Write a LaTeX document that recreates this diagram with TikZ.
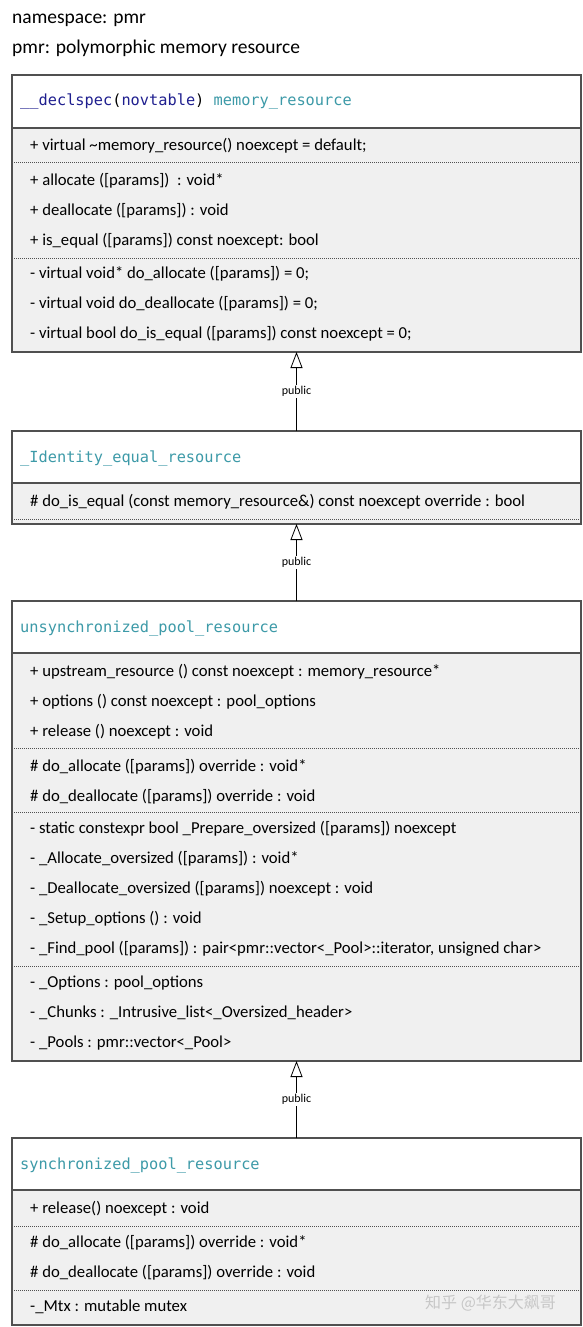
\documentclass[tikz,border=0pt]{standalone}
\usepackage{fontspec}
\setmainfont{Carlito}
\newfontfamily\codefont{DejaVu Sans Mono}
\newfontfamily\cjkfont{Noto Sans CJK SC}
\usetikzlibrary{arrows.meta}
\definecolor{teal1}{HTML}{3D9AA8}
\definecolor{navy1}{HTML}{1F1F8F}
\definecolor{boxgray}{HTML}{F0F0F0}
\definecolor{edge}{HTML}{505050}
\begin{document}
\begin{tikzpicture}[x=1pt,y=-1pt,
  classbox/.style={draw=edge, line width=1.2pt, minimum width=569pt, inner sep=0pt, outer sep=0pt},
  hdr/.style={anchor=base west, font=\codefont\fontsize{15.3}{17}\selectfont, text=teal1, inner sep=0pt},
  row/.style={anchor=base west, font=\fontsize{16.7}{19}\selectfont, inner sep=0pt},
  ttl/.style={anchor=base west, font=\fontsize{19.5}{22}\selectfont, inner sep=0pt},
  sepdash/.style={draw=edge, line width=0.7pt, dash pattern=on 1pt off 1pt},
  sepsolid/.style={draw=edge, line width=1.2pt},
  inherit/.style={draw=black, line width=0.8pt, -{Triangle[open, length=16pt, width=12pt, line width=0.8pt]}},
  lbl/.style={fill=white, inner sep=1.5pt, font=\fontsize{12}{13}\selectfont}
]
\useasboundingbox (0,0) rectangle (582,1327);
\fill[white] (0,0) rectangle (582,1327);

\node[ttl] (t1) at (12,24) {namespace: pmr};
\node[ttl] (t2) at (12,54) {pmr: polymorphic memory resource};

% ---------- Box 1
\fill[boxgray] (12,128) rectangle (581,352);
\node[classbox, minimum height=277pt, anchor=north west] (b1) at (12,75) {};
\draw[sepsolid] (12,128) -- (581,128);
\node[hdr] (h1) at (20,106) {\textcolor{navy1}{\_\_declspec}\textcolor{black}{(}\textcolor{navy1}{novtable}\textcolor{black}{)} memory\_resource};
\node[row] (r11) at (30,150) {+ virtual \textasciitilde memory\_resource() noexcept = default;};
\draw[sepdash] (14,162) -- (579,162);
\node[row] (r12) at (30,185) {+ allocate ([params])~~: void*};
\node[row] (r13) at (30,215) {+ deallocate ([params]) : void};
\node[row] (r14) at (30,245) {+ is\_equal ([params]) const noexcept: bool};
\draw[sepdash] (14,258) -- (579,258);
\node[row] (r15) at (30,278) {- virtual void* do\_allocate ([params]) = 0;};
\node[row] (r16) at (30,308) {- virtual void do\_deallocate ([params]) = 0;};
\node[row] (r17) at (30,338) {- virtual bool do\_is\_equal ([params]) const noexcept = 0;};

% ---------- Box 2
\fill[boxgray] (12,483) rectangle (581,524);
\node[classbox, minimum height=93pt, anchor=north west] (b2) at (12,431) {};
\draw[sepsolid] (12,483) -- (581,483);
\node[hdr] (h2) at (20,462) {\_Identity\_equal\_resource};
\node[row] (r21) at (30,506) {\# do\_is\_equal (const memory\_resource\&) const noexcept override : bool};
\draw[sepdash] (14,519) -- (579,519);

% ---------- Box 3
\fill[boxgray] (12,653) rectangle (581,1061);
\node[classbox, minimum height=460pt, anchor=north west] (b3) at (12,601) {};
\draw[sepsolid] (12,653) -- (581,653);
\node[hdr] (h3) at (20,632) {unsynchronized\_pool\_resource};
\node[row] (r31) at (30,676) {+ upstream\_resource () const noexcept : memory\_resource*};
\node[row] (r32) at (30,706) {+ options () const noexcept : pool\_options};
\node[row] (r33) at (30,736) {+ release () noexcept : void};
\draw[sepdash] (14,748) -- (579,748);
\node[row] (r34) at (30,771) {\# do\_allocate ([params]) override : void*};
\node[row] (r35) at (30,801) {\# do\_deallocate ([params]) override : void};
\draw[sepdash] (14,812) -- (579,812);
\node[row] (r36) at (30,833) {- static constexpr bool \_Prepare\_oversized ([params]) noexcept};
\node[row] (r37) at (30,863) {- \_Allocate\_oversized ([params]) : void*};
\node[row] (r38) at (30,893) {- \_Deallocate\_oversized ([params]) noexcept : void};
\node[row] (r39) at (30,923) {- \_Setup\_options () : void};
\node[row] (r310) at (30,953) {- \_Find\_pool ([params]) : pair<pmr::vector<\_Pool>::iterator, unsigned char>};
\draw[sepdash] (14,966) -- (579,966);
\node[row] (r311) at (30,987) {- \_Options : pool\_options};
\node[row] (r312) at (30,1017) {- \_Chunks : \_Intrusive\_list<\_Oversized\_header>};
\node[row] (r313) at (30,1047) {- \_Pools : pmr::vector<\_Pool>};

% ---------- Box 4
\fill[boxgray] (12,1190) rectangle (581,1325);
\node[classbox, minimum height=187pt, anchor=north west] (b4) at (12,1138) {};
\draw[sepsolid] (12,1190) -- (581,1190);
\node[hdr] (h4) at (20,1169) {synchronized\_pool\_resource};
\node[row] (r41) at (30,1213) {+ release() noexcept : void};
\draw[sepdash] (14,1226) -- (579,1226);
\node[row] (r42) at (30,1247) {\# do\_allocate ([params]) override : void*};
\node[row] (r43) at (30,1277) {\# do\_deallocate ([params]) override : void};
\draw[sepdash] (14,1290) -- (579,1290);
\node[row] (r44) at (30,1311) {-\_Mtx : mutable mutex};

\node[anchor=base west, inner sep=0pt, text=black!22, font=\cjkfont\fontsize{16}{18}\selectfont] (wm) at (425,1308) {知乎 @华东大飙哥};

% ---------- Connectors
\draw[inherit] (b2.north) -- node[lbl] (l1) {public} (b1.south);
\draw[inherit] (b3.north) -- node[lbl] (l2) {public} (b2.south);
\draw[inherit] (b4.north) -- node[lbl] (l3) {public} (b3.south);
\end{tikzpicture}
\end{document}
